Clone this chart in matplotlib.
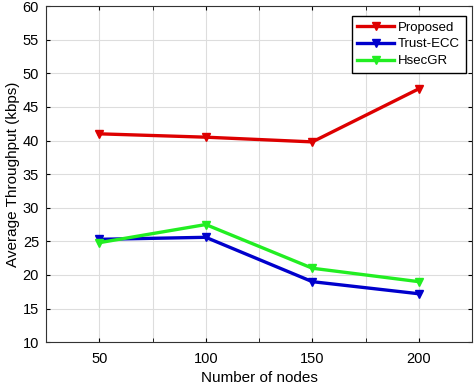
import matplotlib
matplotlib.use("Agg")
import matplotlib.pyplot as plt
from matplotlib.ticker import MultipleLocator

plt.rcParams['font.family'] = ['Liberation Sans', 'DejaVu Sans']

# Data
nodes = [50, 100, 150, 200]
proposed = [41.0, 40.5, 39.8, 47.7]
trust_ecc = [25.3, 25.6, 19.0, 17.2]
hsecgr = [24.8, 27.5, 21.0, 19.0]

fig = plt.figure(figsize=(4.74, 3.84), dpi=100)
ax = fig.add_axes([0.097, 0.109, 0.899, 0.875])

ax.plot(nodes, proposed, color="#dd0000", lw=2.4, marker="v", ms=6, label="Proposed")
ax.plot(nodes, trust_ecc, color="#0000cc", lw=2.4, marker="v", ms=6, label="Trust-ECC")
ax.plot(nodes, hsecgr, color="#22ee22", lw=2.4, marker="v", ms=6, label="HsecGR")

ax.set_xlim(25, 225)
ax.set_ylim(10, 60)
ax.set_xticks(nodes)
ax.xaxis.set_minor_locator(MultipleLocator(25))
ax.set_yticks(range(10, 61, 5))
ax.grid(True, which="both", color="#dddddd", lw=0.8)
ax.set_axisbelow(True)
ax.tick_params(labelsize=10.5, direction="in", length=3, top=True, right=True)
ax.tick_params(axis="x", pad=7)
ax.tick_params(axis="y", pad=5)
ax.tick_params(which="minor", direction="in", length=3, top=True)
for s in ax.spines.values():
    s.set_color("#333333")

ax.set_xlabel("Number of nodes", fontsize=11)
ax.set_ylabel("Average Throughput (kbps)", fontsize=11, labelpad=2)

leg = ax.legend(loc="upper right", fontsize=9.5, fancybox=False, framealpha=1,
                edgecolor="black", handlelength=2.8, borderpad=0.4, labelspacing=0.35,
                handletextpad=0.3, bbox_to_anchor=(1.0, 0.99))

fig.savefig("out.png", dpi=100)
